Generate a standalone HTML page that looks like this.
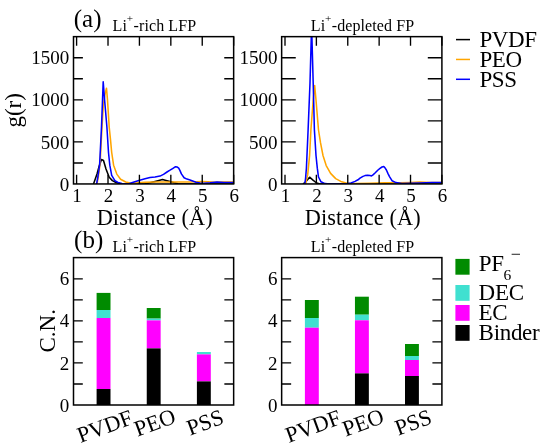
<!DOCTYPE html><html><head><meta charset="utf-8"><title>Figure</title>
<style>html,body{margin:0;padding:0;background:#fff}svg{display:block}text{font-family:"Liberation Serif", "DejaVu Serif", serif;fill:#000}</style></head><body>
<svg width="550" height="448" viewBox="0 0 550 448">
<rect width="550" height="448" fill="#fff"/>
<clipPath id="c0"><rect x="73.5" y="36.65" width="160.15" height="147.3"/></clipPath>
<g clip-path="url(#c0)" fill="none" stroke-width="1.55" stroke-linejoin="round">
<polyline points="93.5,184 97,174 99.5,165 101.5,159.5 103.5,160.5 106,169 109.2,177.3 112.4,180.6 116,182.5 120,183.6 124,184 145,184 152,182.3 158,180.8 162.5,179.6 166,180.5 170,181.6 174,182.7 178,183.7 182,184 234,184" stroke="#000"/><polyline points="97,184 98.4,176 100,165 102,127 103.4,104.5 105.1,93.8 106.5,88.2 107.5,100 109.2,127 110.5,139.7 111.7,152.5 113.6,165.2 116.8,174.1 120.6,179.3 125.7,182 130,183.1 134,183.3 138,182.7 145,182.3 155,182.1 170,182 190,181.9 202,181.6 208,181.8 215,182.3 222,182 228,181.9 234,181.9" stroke="#ffa500"/><polyline points="96.6,184 98,176 99.6,165 101.5,127 103.2,81.7 104.6,100 106.9,127 108.5,152.5 109.8,165.2 111.7,175.4 114.9,180.7 118,182.4 121.9,183.4 126,183.7 129.5,183.4 134,182 139.7,180.2 145,178.8 150,177.6 155,177 160,176.1 163.5,174.4 167,172 170,170.2 173,168.3 175.5,166.7 177.3,167.1 178.7,168.1 180,170.6 181.4,173.9 184.1,177.7 187,179.1 190,180 196,182.3 200,183 204,183.2 210,182.8 217,182 224,182.5 234,182.5" stroke="#00f"/>
</g>
<path d="M76.6 36.65v9.2M76.6 183.95v-9.3M108.01 36.65v9.2M108.01 183.95v-9.3M139.42 36.65v9.2M139.42 183.95v-9.3M170.83 36.65v9.2M170.83 183.95v-9.3M202.24 36.65v9.2M202.24 183.95v-9.3M233.65 36.65v9.2M233.65 183.95v-9.3M73.5 162.95h9.4M233.65 162.95h-9.4M73.5 141.9h9.4M233.65 141.9h-9.4M73.5 120.85h9.4M233.65 120.85h-9.4M73.5 99.8h9.4M233.65 99.8h-9.4M73.5 78.75h9.4M233.65 78.75h-9.4M73.5 57.7h9.4M233.65 57.7h-9.4" stroke="#000" stroke-width="1.35" fill="none"/>
<rect x="73.5" y="36.65" width="160.15" height="147.3" fill="none" stroke="#000" stroke-width="1.5"/>
<text x="69.3" y="190.6" font-size="19" text-anchor="end">0</text>
<text x="69.3" y="148.5" font-size="19" text-anchor="end">500</text>
<text x="69.3" y="106.4" font-size="19" text-anchor="end">1000</text>
<text x="69.3" y="64.3" font-size="19" text-anchor="end">1500</text>
<text x="77.1" y="202.4" font-size="19" text-anchor="middle">1</text>
<text x="108.51" y="202.4" font-size="19" text-anchor="middle">2</text>
<text x="139.92" y="202.4" font-size="19" text-anchor="middle">3</text>
<text x="171.33" y="202.4" font-size="19" text-anchor="middle">4</text>
<text x="202.74" y="202.4" font-size="19" text-anchor="middle">5</text>
<text x="234.15" y="202.4" font-size="19" text-anchor="middle">6</text>
<clipPath id="c1"><rect x="281.65" y="36.65" width="160.25" height="147.3"/></clipPath>
<g clip-path="url(#c1)" fill="none" stroke-width="1.55" stroke-linejoin="round">
<polyline points="303,184 306,181.5 309.6,177.2 313,180.2 316.6,183 320,184 442,184" stroke="#000"/><polyline points="305.6,184 307.7,174.7 309.6,155.5 310.9,130 313.2,100 314.7,85.6 316,100 318.5,130 320.5,142.7 323,155.5 326.2,165.6 330.6,173.4 335.7,178.6 340.8,181.4 347,183.3 356,183.6 370,183.2 385,182.8 400,182.7 410,182.4 420,182.1 430,182.4 442,182.6" stroke="#ffa500"/><polyline points="304.8,184 305.6,178 306.4,168.2 308.1,130 310,83 311.6,26 313.2,83 314.4,130 316,155.5 317.3,168.2 318.5,177 321,181.8 325,183.6 330,184 345,184 351,183 355,181.4 358,179.8 360,178.2 363,176.4 365,175.6 367.5,175.2 370,175.6 371.5,175.9 373,174.9 375,173 378,170 380,168.4 382,167 383.8,166.6 385,167.8 386.4,170 388,173.6 389.5,176.6 392,180.7 396,182.6 402,183.4 410,183.3 420,183 426,182.8 432,182.5 442,182.5" stroke="#00f"/>
</g>
<path d="M285 36.65v9.2M285 183.95v-9.3M316.38 36.65v9.2M316.38 183.95v-9.3M347.76 36.65v9.2M347.76 183.95v-9.3M379.14 36.65v9.2M379.14 183.95v-9.3M410.52 36.65v9.2M410.52 183.95v-9.3M441.9 36.65v9.2M441.9 183.95v-9.3M281.65 162.95h14.1M441.9 162.95h-14.1M281.65 141.9h14.1M441.9 141.9h-14.1M281.65 120.85h14.1M441.9 120.85h-14.1M281.65 99.8h14.1M441.9 99.8h-14.1M281.65 78.75h14.1M441.9 78.75h-14.1M281.65 57.7h14.1M441.9 57.7h-14.1" stroke="#000" stroke-width="1.35" fill="none"/>
<rect x="281.65" y="36.65" width="160.25" height="147.3" fill="none" stroke="#000" stroke-width="1.5"/>
<text x="277.45" y="190.6" font-size="19" text-anchor="end">0</text>
<text x="277.45" y="148.5" font-size="19" text-anchor="end">500</text>
<text x="277.45" y="106.4" font-size="19" text-anchor="end">1000</text>
<text x="277.45" y="64.3" font-size="19" text-anchor="end">1500</text>
<text x="285.5" y="202.4" font-size="19" text-anchor="middle">1</text>
<text x="316.88" y="202.4" font-size="19" text-anchor="middle">2</text>
<text x="348.26" y="202.4" font-size="19" text-anchor="middle">3</text>
<text x="379.64" y="202.4" font-size="19" text-anchor="middle">4</text>
<text x="411.02" y="202.4" font-size="19" text-anchor="middle">5</text>
<text x="442.4" y="202.4" font-size="19" text-anchor="middle">6</text>
<text x="154.7" y="224.9" font-size="22.3" letter-spacing="0.13" text-anchor="middle">Distance (Å)</text>
<text x="362.8" y="224.9" font-size="22.3" letter-spacing="0.13" text-anchor="middle">Distance (Å)</text>
<text transform="translate(20.5 110.3) rotate(-90)" font-size="23" text-anchor="middle">g(r)</text>
<text x="73.8" y="27.3" font-size="25">(a)</text>
<text x="112.6" y="31.1" font-size="16" letter-spacing="0.1">Li<tspan dy="-9.1" dx="-0.2" font-size="11.2">+</tspan><tspan dy="9.1" dx="0.3">-rich LFP</tspan></text>
<text x="310.8" y="31.1" font-size="16" letter-spacing="0.1">Li<tspan dy="-9.1" dx="-0.2" font-size="11.2">+</tspan><tspan dy="9.1" dx="0.3">-depleted FP</tspan></text>
<path d="M456 39.6h14" stroke="#000" stroke-width="1.5"/>
<text x="479.4" y="47" font-size="23" letter-spacing="-0.35">PVDF</text>
<path d="M456 59.45h14" stroke="#ffa500" stroke-width="1.5"/>
<text x="479.4" y="66.85" font-size="23" letter-spacing="-0.35">PEO</text>
<path d="M456 79.3h14" stroke="#00f" stroke-width="1.5"/>
<text x="479.4" y="86.7" font-size="23" letter-spacing="-0.35">PSS</text>
<rect x="96.6" y="292.9" width="13.9" height="17.1" fill="#008b00"/>
<rect x="96.6" y="310" width="13.9" height="8" fill="#40e0d0"/>
<rect x="96.6" y="318" width="13.9" height="71" fill="#f0f"/>
<rect x="96.6" y="389" width="13.9" height="16" fill="#000"/>
<rect x="146.75" y="308" width="13.9" height="10.6" fill="#008b00"/>
<rect x="146.75" y="318.6" width="13.9" height="1.8" fill="#40e0d0"/>
<rect x="146.75" y="320.4" width="13.9" height="28" fill="#f0f"/>
<rect x="146.75" y="348.4" width="13.9" height="56.6" fill="#000"/>
<rect x="196.9" y="352" width="13.9" height="2.4" fill="#40e0d0"/>
<rect x="196.9" y="354.4" width="13.9" height="27" fill="#f0f"/>
<rect x="196.9" y="381.4" width="13.9" height="23.6" fill="#000"/>
<path d="M73.5 383.97h9.3M233.65 383.97h-9.3M73.5 362.94h9.3M233.65 362.94h-9.3M73.5 341.91h9.3M233.65 341.91h-9.3M73.5 320.88h9.3M233.65 320.88h-9.3M73.5 299.85h9.3M233.65 299.85h-9.3M73.5 278.82h9.3M233.65 278.82h-9.3" stroke="#000" stroke-width="1.35" fill="none"/>
<rect x="73.5" y="257.6" width="160.15" height="147.4" fill="none" stroke="#000" stroke-width="1.5"/>
<text x="69.3" y="411.6" font-size="19" text-anchor="end">0</text>
<text x="69.3" y="369.54" font-size="19" text-anchor="end">2</text>
<text x="69.3" y="327.48" font-size="19" text-anchor="end">4</text>
<text x="69.3" y="285.42" font-size="19" text-anchor="end">6</text>
<text transform="translate(107.3 433.3) rotate(-20)" font-size="22.4" text-anchor="middle">PVDF</text>
<text transform="translate(157.45 429.4) rotate(-20)" font-size="22.4" text-anchor="middle">PEO</text>
<text transform="translate(207.6 429.4) rotate(-20)" font-size="22.4" text-anchor="middle">PSS</text>
<rect x="304.9" y="300" width="13.9" height="18" fill="#008b00"/>
<rect x="304.9" y="318" width="13.9" height="9.7" fill="#40e0d0"/>
<rect x="304.9" y="327.7" width="13.9" height="77.3" fill="#f0f"/>
<rect x="354.95" y="296.7" width="13.9" height="18" fill="#008b00"/>
<rect x="354.95" y="314.7" width="13.9" height="5.6" fill="#40e0d0"/>
<rect x="354.95" y="320.3" width="13.9" height="53.2" fill="#f0f"/>
<rect x="354.95" y="373.4" width="13.9" height="31.6" fill="#000"/>
<rect x="405" y="344" width="13.9" height="12" fill="#008b00"/>
<rect x="405" y="356" width="13.9" height="4" fill="#40e0d0"/>
<rect x="405" y="360" width="13.9" height="16" fill="#f0f"/>
<rect x="405" y="376" width="13.9" height="29" fill="#000"/>
<path d="M281.65 383.97h9.5M441.9 383.97h-9.5M281.65 362.94h9.5M441.9 362.94h-9.5M281.65 341.91h9.5M441.9 341.91h-9.5M281.65 320.88h9.5M441.9 320.88h-9.5M281.65 299.85h9.5M441.9 299.85h-9.5M281.65 278.82h9.5M441.9 278.82h-9.5" stroke="#000" stroke-width="1.35" fill="none"/>
<rect x="281.65" y="257.6" width="160.25" height="147.4" fill="none" stroke="#000" stroke-width="1.5"/>
<text x="277.45" y="411.6" font-size="19" text-anchor="end">0</text>
<text x="277.45" y="369.54" font-size="19" text-anchor="end">2</text>
<text x="277.45" y="327.48" font-size="19" text-anchor="end">4</text>
<text x="277.45" y="285.42" font-size="19" text-anchor="end">6</text>
<text transform="translate(315.6 433.3) rotate(-20)" font-size="22.4" text-anchor="middle">PVDF</text>
<text transform="translate(365.65 429.4) rotate(-20)" font-size="22.4" text-anchor="middle">PEO</text>
<text transform="translate(415.7 429.4) rotate(-20)" font-size="22.4" text-anchor="middle">PSS</text>
<text transform="translate(55.2 330.8) rotate(-90)" font-size="23" text-anchor="middle">C.N.</text>
<text x="74.1" y="248" font-size="25">(b)</text>
<text x="112.6" y="252.05" font-size="16" letter-spacing="0.1">Li<tspan dy="-9.1" dx="-0.2" font-size="11.2">+</tspan><tspan dy="9.1" dx="0.3">-rich LFP</tspan></text>
<text x="310.8" y="252.05" font-size="16" letter-spacing="0.1">Li<tspan dy="-9.1" dx="-0.2" font-size="11.2">+</tspan><tspan dy="9.1" dx="0.3">-depleted FP</tspan></text>
<rect x="455.4" y="258.9" width="14.2" height="15.8" fill="#008b00"/>
<rect x="455.4" y="285" width="14.2" height="15.8" fill="#40e0d0"/>
<text x="478.6" y="300.4" font-size="23" letter-spacing="-0.3">DEC</text>
<rect x="455.4" y="305" width="14.2" height="15.8" fill="#f0f"/>
<text x="478.6" y="320.2" font-size="23" letter-spacing="-0.3">EC</text>
<rect x="455.4" y="325" width="14.2" height="15.8" fill="#000"/>
<text x="478.6" y="340.3" font-size="23" letter-spacing="-0.3">Binder</text>
<text x="478.7" y="271.2" font-size="23" letter-spacing="-0.35">PF<tspan dy="9.1" font-size="15.5">6</tspan><tspan dy="-20.5" dx="-0.2" font-size="18">−</tspan></text>
</svg></body></html>
